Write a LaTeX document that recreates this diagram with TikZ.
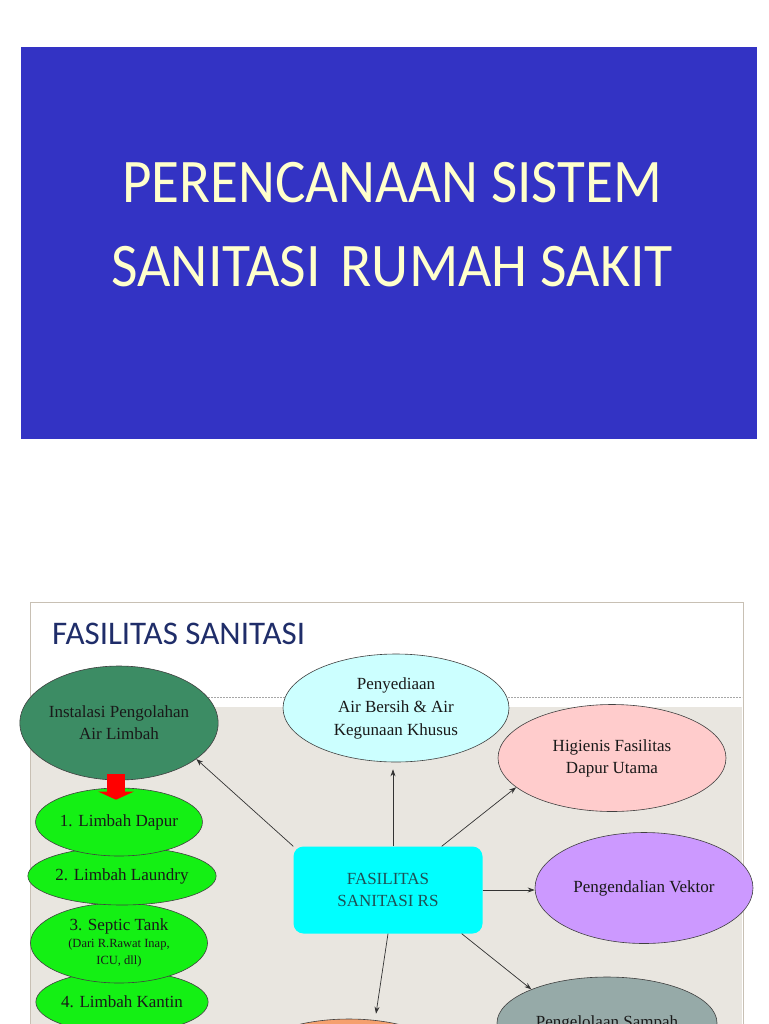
\documentclass[tikz,border=0pt]{standalone}
\usepackage{fontspec}
\setmainfont{Liberation Serif}
\newfontfamily\titlefont{Carlito}
\usetikzlibrary{shapes.geometric,arrows.meta}
\definecolor{slideblue}{RGB}{51,51,196}
\definecolor{titleyellow}{RGB}{255,255,204}
\definecolor{titlenavy}{RGB}{31,45,105}
\definecolor{framegray}{RGB}{200,192,180}
\definecolor{panelgray}{RGB}{233,230,224}
\definecolor{ipalgreen}{RGB}{60,140,100}
\definecolor{limbahgreen}{RGB}{20,240,20}
\definecolor{aircyan}{RGB}{204,255,255}
\definecolor{higpink}{RGB}{255,204,204}
\definecolor{vekpurple}{RGB}{204,153,255}
\definecolor{sampahgray}{RGB}{150,170,168}
\definecolor{bottomorange}{RGB}{245,160,110}
\definecolor{rscyan}{RGB}{0,255,255}
\definecolor{rstext}{RGB}{30,80,85}

\begin{document}
\begin{tikzpicture}[x=1pt,y=-1pt,
  oval/.style={ellipse,draw=black!75,line width=0.6pt,inner sep=0pt,align=center,text=black!90,font=\fontsize{17}{22}\selectfont},
  link/.style={-{Stealth[length=7pt,width=5pt]},line width=0.7pt,draw=black!80}]
\useasboundingbox (0,0) rectangle (768,1024);
\fill[white] (0,0) rectangle (768,1024);
\fill[slideblue] (21,47) rectangle (757,439);
\node[inner sep=0pt,text=titleyellow,font=\titlefont\fontsize{62}{62}\selectfont] (judul1) at (392,183) {\scalebox{0.92}[1]{PERENCANAAN SISTEM}};
\node[inner sep=0pt,text=titleyellow,font=\titlefont\fontsize{62}{62}\selectfont] (judul2) at (392,267) {\scalebox{0.93}[1]{SANITASI\hspace{0.35em}RUMAH SAKIT}};

\draw[framegray,fill=white] (30,602) rectangle (743,1030);
\fill[panelgray] (31,707) rectangle (742,1030);
\draw[gray!70,dash pattern=on 2pt off 1pt] (31,697) -- (742,697);
\node[anchor=west,inner sep=0pt,text=titlenavy,font=\titlefont\fontsize{33}{33}\selectfont] (judul3) at (52,634) {FASILITAS SANITASI};

\node[oval,fill=ipalgreen,minimum width=198,minimum height=114] (ipal) at (119,723) {Instalasi Pengolahan\\Air Limbah};
\node[oval,fill=limbahgreen,minimum width=172,minimum height=62] (kantin) at (122,1002) {4. Limbah Kantin};
\node[oval,fill=limbahgreen,minimum width=177,minimum height=80,font=\fontsize{12.5}{17}\selectfont] (septic) at (119,943) {{\fontsize{17}{20}\selectfont 3. Septic Tank}\\(Dari R.Rawat Inap,\\ICU, dll)};
\node[oval,fill=limbahgreen,minimum width=172,minimum height=58] (laundry) at (122,876) {2. Limbah Laundry};
\node[oval,fill=limbahgreen,minimum width=166,minimum height=68] (dapur) at (119,822) {1. Limbah Dapur};
\draw[red,line width=18pt,-{Triangle[length=8pt,width=35pt]}] ([xshift=-3pt,yshift=6pt]ipal.south) -- ([xshift=-3pt,yshift=-12pt]dapur.north);

\node[oval,fill=aircyan,minimum width=226,minimum height=108,font=\fontsize{17}{23}\selectfont] (air) at (396,708) {Penyediaan\\Air Bersih \& Air\\Kegunaan Khusus};
\node[oval,fill=higpink,minimum width=228,minimum height=107] (hig) at (612,758) {Higienis Fasilitas\\Dapur Utama};
\node[oval,fill=vekpurple,minimum width=218,minimum height=111] (vek) at (644,888) {Pengendalian Vektor};
\node[oval,fill=sampahgray,minimum width=220,minimum height=92] (samp) at (607,1023) {Pengelolaan Sampah};
\node[oval,fill=bottomorange,minimum width=220,minimum height=100] (bawah) at (349,1069) {};

\node[fill=rscyan,rounded corners=10pt,minimum width=189,minimum height=87,align=center,text=rstext,font=\fontsize{17}{22}\selectfont] (rs) at (388,890) {FASILITAS\\SANITASI RS};

\draw[link] (rs.north west) -- (ipal.-25);
\draw[link,shorten >=7pt] ([xshift=5pt]rs.north) -- ([xshift=-3pt]air.south);
\draw[link] ([xshift=-41pt]rs.north east) -- (hig.197);
\draw[link] (rs.east) -- (rs.east -| vek.west);
\draw[link] ([xshift=-21pt]rs.south east) -- (samp.156);
\draw[link] (rs.south) -- ([xshift=27pt,yshift=5pt]bawah.north);
\end{tikzpicture}
\end{document}
